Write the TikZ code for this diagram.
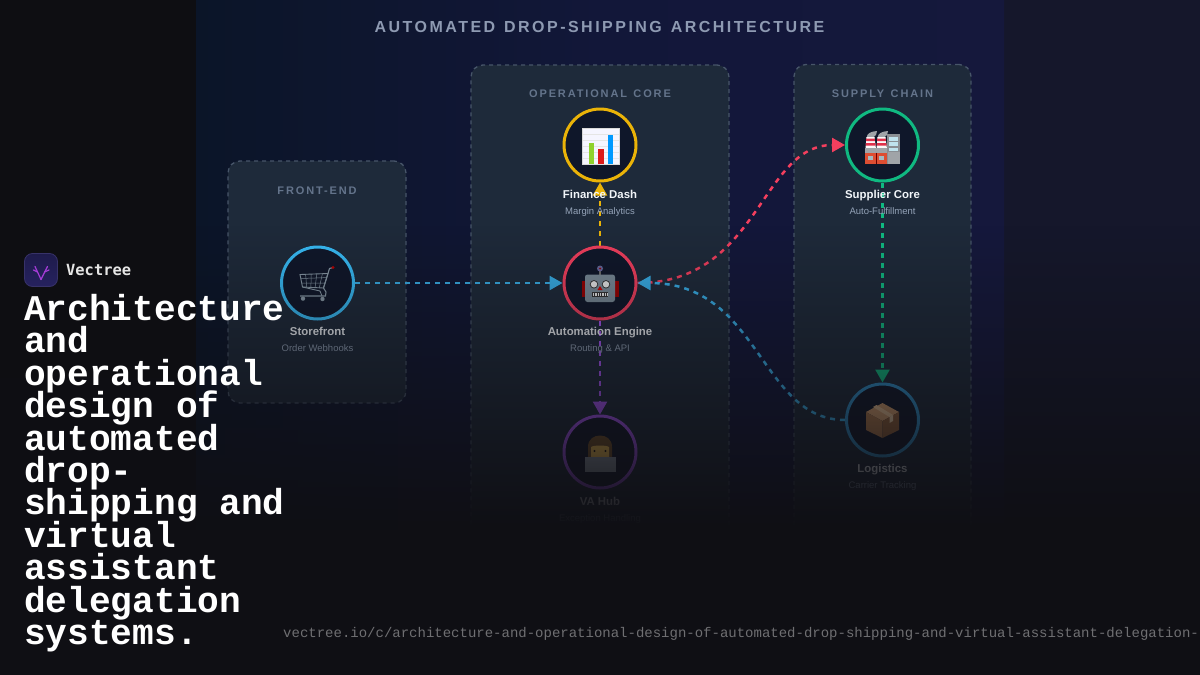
\documentclass[tikz,border=0pt]{standalone}
\usepackage{fontspec}
\setmainfont{Liberation Sans}
\newfontfamily\headf{Liberation Mono}
\newfontfamily\brandf{DejaVu Sans Mono}
\usetikzlibrary{arrows.meta,fadings}
\definecolor{basebg}{HTML}{0F0F14}
\definecolor{leftbg}{HTML}{0E0E12}
\definecolor{rightbg}{HTML}{15172B}
\definecolor{stageL}{HTML}{0B1528}
\definecolor{stageM}{HTML}{121739}
\definecolor{stageR}{HTML}{15183C}
\definecolor{logoT}{HTML}{1E1B4B}
\definecolor{logoB}{HTML}{26225F}
\definecolor{logoE}{HTML}{373269}
\definecolor{logoV}{HTML}{A53CD7}
\definecolor{titlec}{HTML}{8E9AB2}
\definecolor{panelfill}{HTML}{1E2A3A}
\definecolor{paneledge}{HTML}{475569}
\definecolor{ptitlec}{HTML}{64748B}
\definecolor{nodefill}{HTML}{0F172A}
\definecolor{namec}{HTML}{F1F5F9}
\definecolor{subc}{HTML}{94A3B8}
\definecolor{ccyan}{HTML}{38BDF8}
\definecolor{cyellow}{HTML}{EAB308}
\definecolor{cred}{HTML}{F43F5E}
\definecolor{cgreen}{HTML}{10B981}
\definecolor{cpurple}{HTML}{A855F7}
\definecolor{cnavy}{HTML}{38B0EA}
\definecolor{clog}{HTML}{2F8FC8}
\definecolor{cartc}{HTML}{8899A6}
\definecolor{robotc}{HTML}{7A8B98}
\definecolor{brickc}{HTML}{DD4D32}
\definecolor{boxT}{HTML}{D6A06E}
\definecolor{boxL}{HTML}{B07A4C}
\definecolor{boxR}{HTML}{94623A}
\definecolor{tapeA}{HTML}{ECC496}
\definecolor{tapeB}{HTML}{E6C8A0}
\definecolor{hairc}{HTML}{785428}
\definecolor{facec}{HTML}{FFC850}
\definecolor{lapc}{HTML}{96A0AC}
\definecolor{winc}{HTML}{BFE3EE}
\definecolor{bldg}{HTML}{8A8F94}
\definecolor{bldgl}{HTML}{A0A4A8}
\definecolor{stripe}{HTML}{E0304A}
\pgfdeclarelayer{panels}\pgfdeclarelayer{edges}\pgfdeclarelayer{veil}\pgfdeclarelayer{top}
\pgfsetlayers{panels,edges,main,veil,top}
\tikzfading[name=veilfade, top color=transparent!100, bottom color=transparent!0]
\tikzset{
  panelbox/.style={draw=paneledge,fill=panelfill,line width=1.3pt,dash pattern=on 4pt off 4pt,rounded corners=12pt,inner sep=0pt},
  paneltitle/.style={font=\fontsize{11}{13}\selectfont\bfseries\addfontfeature{LetterSpace=17},text=ptitlec,inner sep=0pt},
  hub/.style={circle,draw=#1,fill=nodefill,line width=3pt,minimum size=72pt,inner sep=0pt},
  hubname/.style={anchor=base,font=\fontsize{11.4}{14}\selectfont\bfseries,text=namec,inner sep=0pt},
  hubsub/.style={anchor=base,font=\fontsize{9.5}{12}\selectfont,text=subc,inner sep=0pt},
  flow/.style={draw=#1,line width=2.5pt,dash pattern=on 5pt off 5pt,-{Triangle[length=13pt,width=14pt,fill=#1]}},
}
\begin{document}
\begin{tikzpicture}[x=1pt,y=-1pt]
\useasboundingbox (0,0) rectangle (1200,675);
\begin{pgfonlayer}{panels}
  \fill[basebg] (0,0) rectangle (1200,675);
  \fill[leftbg] (0,0) rectangle (196,675);
  \fill[rightbg] (1004,0) rectangle (1200,675);
  \shade[left color=stageL,right color=stageR,middle color=stageM] (196,0) rectangle (1004,675);
  \node[panelbox,minimum width=178pt,minimum height=242pt] (frontp) at (317,282) {};
  \node[panelbox,minimum width=258pt,minimum height=490pt] (corep) at (600,310) {};
  \node[panelbox,minimum width=177pt,minimum height=475pt] (supplyp) at (882.5,302) {};
\end{pgfonlayer}

\node[font=\fontsize{16}{18}\selectfont\bfseries\addfontfeature{LetterSpace=15.5},text=titlec,inner sep=0pt] (ttl) at (599.5,27) {AUTOMATED\hspace{2pt} DROP-SHIPPING\hspace{2pt} ARCHITECTURE};
\node[paneltitle] (frontt) at (317,190.5) {FRONT-END};
\node[paneltitle] (coret) at (600,93.5) {OPERATIONAL\hspace{1.5pt} CORE};
\node[paneltitle] (supplyt) at (882.5,93.5) {SUPPLY\hspace{1.5pt} CHAIN};

\node[hub=ccyan] (store) at (317.5,283) {};
\node[hub=cyellow] (fin) at (600,145) {};
\node[hub=cred] (auto) at (600,283) {};
\node[hub=cpurple] (va) at (600,452) {};
\node[hub=cgreen] (sup) at (882.5,145) {};
\node[hub=clog] (log) at (882.5,420) {};

\node[hubname] (storen) at (317.5,335) {Storefront};
\node[hubsub] (stores) at (317.5,351) {Order Webhooks};
\node[hubname] (finn) at (600,198) {Finance Dash};
\node[hubsub] (fins) at (600,214) {Margin Analytics};
\node[hubname] (auton) at (600,335) {Automation Engine};
\node[hubsub] (autos) at (600,351) {Routing \& API};
\node[hubname] (van) at (600,505) {VA Hub};
\node[hubsub] (vas) at (600,521) {Exception Handling};
\node[hubname] (supn) at (882.5,198) {Supplier Core};
\node[hubsub] (sups) at (882.5,214) {Auto-Fulfillment};
\node[hubname] (logn) at (882.5,472) {Logistics};
\node[hubsub] (logs) at (882.5,488) {Carrier Tracking};

\begin{pgfonlayer}{edges}
  \draw[flow=cnavy] (store) -- (auto);
  \draw[flow=cyellow] (auto) -- (fin);
  \draw[flow=cpurple] (auto) -- (va);
  \draw[flow=cgreen] (sup) -- (log);
  \draw[flow=cred] (auto.east) .. controls (760,283) and (760,145) .. (sup.west);
  \draw[flow=cnavy] (log.west) .. controls (760,420) and (760,283) .. (auto.east);
\end{pgfonlayer}

% --- chart icon
\fill[white!96!blue] (582.5,128) rectangle (619.5,164);
\draw[black!15!white,line width=.8pt] (582.5,128) rectangle (619.5,164);
\foreach \yy in {134,140,146,152,158}{\draw[black!10!white,line width=.8pt] (583,\yy) -- (619,\yy);}
\fill[green!40!yellow!65!gray] (588.5,143) rectangle (593.5,163.5);
\fill[red!85!black!90!white] (598,149) rectangle (603.5,163.5);
\fill[blue!40!cyan] (608,135) rectangle (613,163.5);

% --- cart icon
\begin{scope}[draw=cartc,line width=.9pt]
  \draw (300,274.5) -- (328,273.5) -- (323.5,288) -- (302.5,287) -- cycle;
  \foreach \t in {.2,.4,.6,.8}{
    \draw[line width=.5pt] (300+28*\t,274.5-1*\t) -- (302.5+21*\t,287+1*\t);}
  \draw[line width=.5pt] (300.8,278.5) -- (326.8,277.6) (301.6,283) -- (325.2,283);
  \draw[line width=1.1pt] (333,267.5) -- (329.5,268.5) -- (323.5,288) -- (326,292) -- (325.5,296) -- (300,296);
  \draw[line width=.9pt] (302.5,287) -- (320,291) -- (322,296);
  \fill[draw=none,fill=cartc] (303,298.6) circle (2.2) (322.5,299) circle (2.2);
\end{scope}
\fill[red!75!black] (333,267.5) circle (1.7);

% --- robot icon
\fill[red!60!black] (581.5,281) rectangle (587,297);
\fill[red!60!black] (613,281) rectangle (619,297);
\draw[gray!85!black,line width=1.2pt] (600,274.5) -- (600,269);
\fill[gray!80!blue] (600,268.5) circle (3);
\fill[red!60!black] (600,268.5) circle (1);
\fill[rounded corners=2.5pt,robotc] (585,274.5) rectangle (615,302);
\fill[black!55!gray] (594,284.3) circle (4.2);
\fill[black!55!gray] (606,284.3) circle (4.2);
\fill[white!85!gray] (594,284.3) circle (3.2);
\fill[white!85!gray] (606,284.3) circle (3.2);
\fill[red!80!black] (600,286) -- (597.5,290) -- (602.5,290) -- cycle;
\fill[black!60!gray] (592,292) rectangle (608,296.5);
\foreach \xx in {593,595.3,597.6,599.9,602.2,604.5,606.8}{\fill[white!85!gray] (\xx,292.6) rectangle ++(1.3,3.3);}

% --- factory icon
\foreach \dx in {0,11}{
  \fill[bldgl] (866.5+\dx,138) .. controls (867+\dx,133) and (871+\dx,131.5) .. (877+\dx,131) -- (876+\dx,135) .. controls (874+\dx,135.5) and (874+\dx,137) .. (874.5+\dx,138) -- cycle;
  \fill[white!95!gray] (866.5+\dx,137) -- (874.5+\dx,137) -- (876+\dx,149) -- (865.5+\dx,149) -- cycle;
  \fill[stripe] (866.2+\dx,138.5) -- (874.7+\dx,138.5) -- (875+\dx,141) -- (866+\dx,141) -- cycle;
  \fill[stripe] (865.9+\dx,143) -- (875.3+\dx,143) -- (875.6+\dx,145.5) -- (865.7+\dx,145.5) -- cycle;
}
\fill[bldgl] (864.5,148) rectangle (887,152.5);
\fill[brickc] (864.5,152.5) rectangle (887,163.5);
\draw[red!40!black,line width=.4pt] (875.7,152.5) -- (875.7,163.5);
\fill[winc!60!gray] (868,155.5) rectangle (872.5,160);
\fill[winc!60!gray] (879,155.5) rectangle (883.5,160);
\fill[bldg] (886.5,134) rectangle (900,163.5);
\fill[bldgl] (888,152) rectangle (900,163.5);
\fill[winc] (889,136.5) rectangle (898,140.5);
\fill[winc] (889,142) rectangle (898,146);
\fill[winc] (889,147.5) rectangle (898,151);

% --- parcel icon
\fill[boxT] (882.5,403) -- (899,412) -- (882.5,421) -- (866,412) -- cycle;
\fill[boxL] (866,412) -- (882.5,421) -- (882.5,438) -- (866,430) -- cycle;
\fill[boxR] (899,412) -- (882.5,421) -- (882.5,438) -- (899,430) -- cycle;
\fill[tapeA] (873,407) -- (876.5,405) -- (893,415) -- (889.5,417) -- cycle;
\fill[tapeB] (889.5,417) -- (893,415) -- (893,421) -- (889.5,423) -- cycle;

% --- assistant icon
\fill[hairc] (588,462) -- (588,447) .. controls (588,439) and (594,435.5) .. (600,435.5) .. controls (606,435.5) and (612,439) .. (612,447) -- (612,462) -- cycle;
\fill[facec] (591,447) .. controls (594,445) and (606,445) .. (609,447) -- (609,458) -- (591,458) -- cycle;
\fill[black!80!brown] (594.5,451) circle (1.2);
\fill[black!80!brown] (605.5,451) circle (1.2);
\fill[lapc] (584.5,457) rectangle (615.5,472);

\begin{pgfonlayer}{veil}
  \fill[basebg,path fading=veilfade] (-40,225) rectangle (1240,530);
  \fill[basebg] (-40,529.5) rectangle (1240,700);
\end{pgfonlayer}

\begin{pgfonlayer}{top}
  \node[rounded corners=8pt,draw=logoE,line width=.8pt,top color=logoT,bottom color=logoB,minimum size=33pt,inner sep=0pt] (logo) at (41,270) {};
  \begin{scope}[draw=logoV,line width=1.2pt,line cap=round]
    \draw (41,279.5) -- (35,266.5);
    \draw (41,279.5) -- (47.5,266.5);
    \draw (37.5,272) -- (33.5,270);
    \draw (44.5,272) -- (49,270);
  \end{scope}
  \node[anchor=base west,inner sep=0pt,font=\brandf\bfseries\fontsize{15.4}{18}\selectfont,text=white!90!black] (brand) at (66,275) {Vectree};
  \node[anchor=north west,inner sep=0pt,align=left,text=white,font={\headf\bfseries\fontsize{36.15}{32.4}\selectfont\lineskiplimit=-100pt}] (head) at (24,294) {Architecture\\and\\operational\\design of\\automated\\drop-\\shipping and\\virtual\\assistant\\delegation\\systems.};
  \node[anchor=base west,inner sep=0pt,font=\headf\fontsize{14}{16}\selectfont,text=white!40!basebg] (url) at (283,637) {vectree.io/c/architecture-and-operational-design-of-automated-drop-shipping-and-virtual-assistant-delegation-};
\end{pgfonlayer}
\end{tikzpicture}
\end{document}
